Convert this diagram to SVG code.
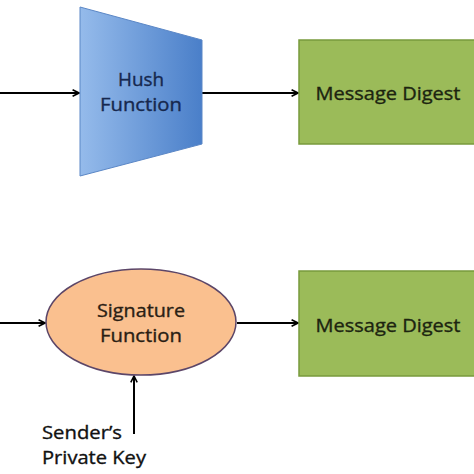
<svg xmlns="http://www.w3.org/2000/svg" width="474" height="474" viewBox="0 0 474 474">
<defs>
<linearGradient id="blueGrad" x1="0" y1="0" x2="1" y2="0">
<stop offset="0" stop-color="#95bbeb"/>
<stop offset="1" stop-color="#4a7fc9"/>
</linearGradient>
<marker id="arr" viewBox="0 0 10 10" refX="9" refY="5" markerWidth="8" markerHeight="8" markerUnits="userSpaceOnUse" orient="auto">
<path d="M1,1 L9,5 L1,9" fill="none" stroke="#000" stroke-width="2"/>
</marker>
<style>
.conn{stroke:#000;stroke-width:2;fill:none;marker-end:url(#arr)}
.lbl{font-family:"Open Sans","Liberation Sans",sans-serif;text-anchor:middle;font-size:19px;stroke-width:0.35}
.two{font-size:18px}
.green{fill:#9bbb59;stroke:#789a3c;stroke-width:1.5}
</style>
</defs>
<rect width="474" height="474" fill="#fff"/>
<g id="connectors">
<line class="conn" x1="0" y1="93" x2="79" y2="93"/>
<line class="conn" x1="202" y1="93" x2="298" y2="93"/>
<line class="conn" x1="0" y1="323" x2="45" y2="323"/>
<line class="conn" x1="237" y1="323" x2="298" y2="323"/>
<line class="conn" x1="134" y1="434" x2="134" y2="376"/>
</g>
<g id="hash-function">
<polygon points="80,7 202,40 202,144 80,176" fill="url(#blueGrad)" stroke="#5b87c6" stroke-width="1"/>
<text class="lbl two" x="141" y="86" fill="#16284e" stroke="#16284e" textLength="46" lengthAdjust="spacingAndGlyphs">Hush</text>
<text class="lbl two" x="141" y="111" fill="#16284e" stroke="#16284e" textLength="82" lengthAdjust="spacingAndGlyphs">Function</text>
</g>
<g id="message-digest-1">
<rect class="green" x="299" y="40" width="180" height="104"/>
<text class="lbl" x="388" y="100" fill="#1c2410" stroke="#1c2410" textLength="145" lengthAdjust="spacingAndGlyphs">Message Digest</text>
</g>
<g id="signature-function">
<ellipse cx="141" cy="322" rx="95" ry="53" fill="#fac08f" stroke="#5c4668" stroke-width="1.5"/>
<text class="lbl two" x="141" y="317" fill="#2a1e14" stroke="#2a1e14" textLength="88" lengthAdjust="spacingAndGlyphs">Signature</text>
<text class="lbl two" x="141" y="342" fill="#2a1e14" stroke="#2a1e14" textLength="82" lengthAdjust="spacingAndGlyphs">Function</text>
</g>
<g id="message-digest-2">
<rect class="green" x="299" y="271" width="180" height="105"/>
<text class="lbl" x="388" y="332" fill="#1c2410" stroke="#1c2410" textLength="145" lengthAdjust="spacingAndGlyphs">Message Digest</text>
</g>
<g id="senders-key">
<text class="lbl two" x="42" y="439" fill="#111" stroke="#111" style="text-anchor:start" textLength="80" lengthAdjust="spacingAndGlyphs">Sender’s</text>
<text class="lbl two" x="42" y="464" fill="#111" stroke="#111" style="text-anchor:start" textLength="104" lengthAdjust="spacingAndGlyphs">Private Key</text>
</g>
</svg>
